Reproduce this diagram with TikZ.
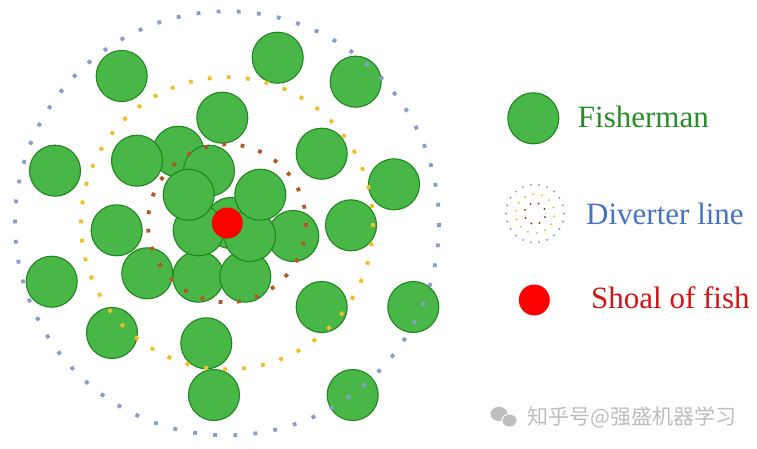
\documentclass[tikz,border=0pt]{standalone}
\usepackage{fontspec}
\usetikzlibrary{calc}
\setmainfont{Liberation Serif}
\newfontfamily\cjk{Noto Sans CJK SC}
\definecolor{fishfill}{RGB}{72,183,72}
\definecolor{fishline}{RGB}{32,135,32}
\definecolor{ringblue}{RGB}{140,156,200}
\definecolor{ringyellow}{RGB}{240,190,40}
\definecolor{ringbrown}{RGB}{176,88,40}
\definecolor{txtgreen}{RGB}{40,140,40}
\definecolor{txtblue}{RGB}{68,114,196}
\definecolor{txtred}{RGB}{210,20,20}
\definecolor{fishred}{RGB}{255,0,0}
\definecolor{wmgray}{RGB}{190,190,190}
\begin{document}
\begin{tikzpicture}[x=1pt,y=-1pt,
  fisher/.style={circle,fill=fishfill,draw=fishline,line width=1.1pt,minimum size=51pt,inner sep=0pt},
  shoal/.style={circle,fill=fishred,draw=none,minimum size=31pt,inner sep=0pt},
  ringdots/.style={line width=3.8pt},
  legtext/.style={anchor=base west,font=\fontsize{31}{36}\selectfont,inner sep=0pt},
  tinydot/.style={fill=#1,draw=none}
]
\useasboundingbox (0,0) rectangle (757,448);
\fill[white] (0,0) rectangle (757,448);
% fishermen, back to front
\node[fisher] (c0) at (231,223) {};
\node[fisher] (c1) at (178.3,151.7) {};
\node[fisher] (c2) at (137,160.7) {};
\node[fisher] (c3) at (209,170.7) {};
\node[fisher] (c4) at (293.3,236) {};
\node[fisher] (c5) at (198.3,276.7) {};
\node[fisher] (c6) at (245.3,276.7) {};
\node[fisher] (c7) at (250,236) {};
\node[fisher] (c8) at (198.7,230.3) {};
\node[fisher] (c9) at (188.7,194.7) {};
\node[fisher] (c10) at (260.3,194.7) {};
\node[fisher] (c11) at (121.7,76) {};
\node[fisher] (c12) at (277.7,57.7) {};
\node[fisher] (c13) at (355.7,81.7) {};
\node[fisher] (c14) at (222.3,117.7) {};
\node[fisher] (c15) at (321.7,153.7) {};
\node[fisher] (c16) at (55,170.7) {};
\node[fisher] (c17) at (394,184.3) {};
\node[fisher] (c18) at (116.7,230.3) {};
\node[fisher] (c19) at (351,225.3) {};
\node[fisher] (c20) at (147.3,273.3) {};
\node[fisher] (c21) at (51.7,281.7) {};
\node[fisher] (c22) at (321.7,307) {};
\node[fisher] (c23) at (413.3,307) {};
\node[fisher] (c24) at (112,333) {};
\node[fisher] (c25) at (206.3,343.3) {};
\node[fisher] (c26) at (214,395) {};
\node[fisher] (c27) at (352.7,395) {};
% diverter rings
\coordinate (ctr) at (227,223.3);
\draw[ringdots,ringblue,dash pattern=on 3.8pt off 16.38pt] (ctr) circle[radius=212];
\draw[ringdots,ringyellow,dash pattern=on 3.8pt off 15.31pt] (ctr) circle[radius=146];
\draw[ringdots,ringbrown,dash pattern=on 3.8pt off 14.58pt] (ctr) circle[radius=79];
% shoal of fish
\node[shoal] (fish) at (227.3,223) {};
% legend
\node[fisher] (lfisher) at (533.3,118.3) {};
\node[legtext,text=txtgreen] (tfisher) at (577.7,127.3) {Fisherman};
\coordinate (lring) at (535,213.5);
\foreach \a in {0,16.36,...,359} \fill[ringblue] ($(lring)+(\a:29)$) circle[radius=1.1];
\foreach \a in {8,33.7,...,367} \fill[ringyellow] ($(lring)+(\a:19.5)$) circle[radius=1.1];
\foreach \a in {20,65,...,379} \fill[ringbrown!80!black] ($(lring)+(\a:10.5)$) circle[radius=1.1];
\node[legtext,text=txtblue] (tdiv) at (586,224) {Diverter line};
\node[shoal] (lfish) at (534.3,300) {};
\node[legtext,text=txtred] (tshoal) at (591,308.3) {Shoal of fish};
% watermark
\fill[wmgray] (499,414) ellipse[x radius=8.5,y radius=7.2];
\fill[white] (509.5,420.5) ellipse[x radius=8.2,y radius=7];
\fill[wmgray] (509.5,420.5) ellipse[x radius=7,y radius=6];
\node[anchor=west,inner sep=0pt,text=wmgray,font=\cjk\fontsize{21}{24}\selectfont] (wm) at (527,417) {知乎号@强盛机器学习};
\end{tikzpicture}
\end{document}
